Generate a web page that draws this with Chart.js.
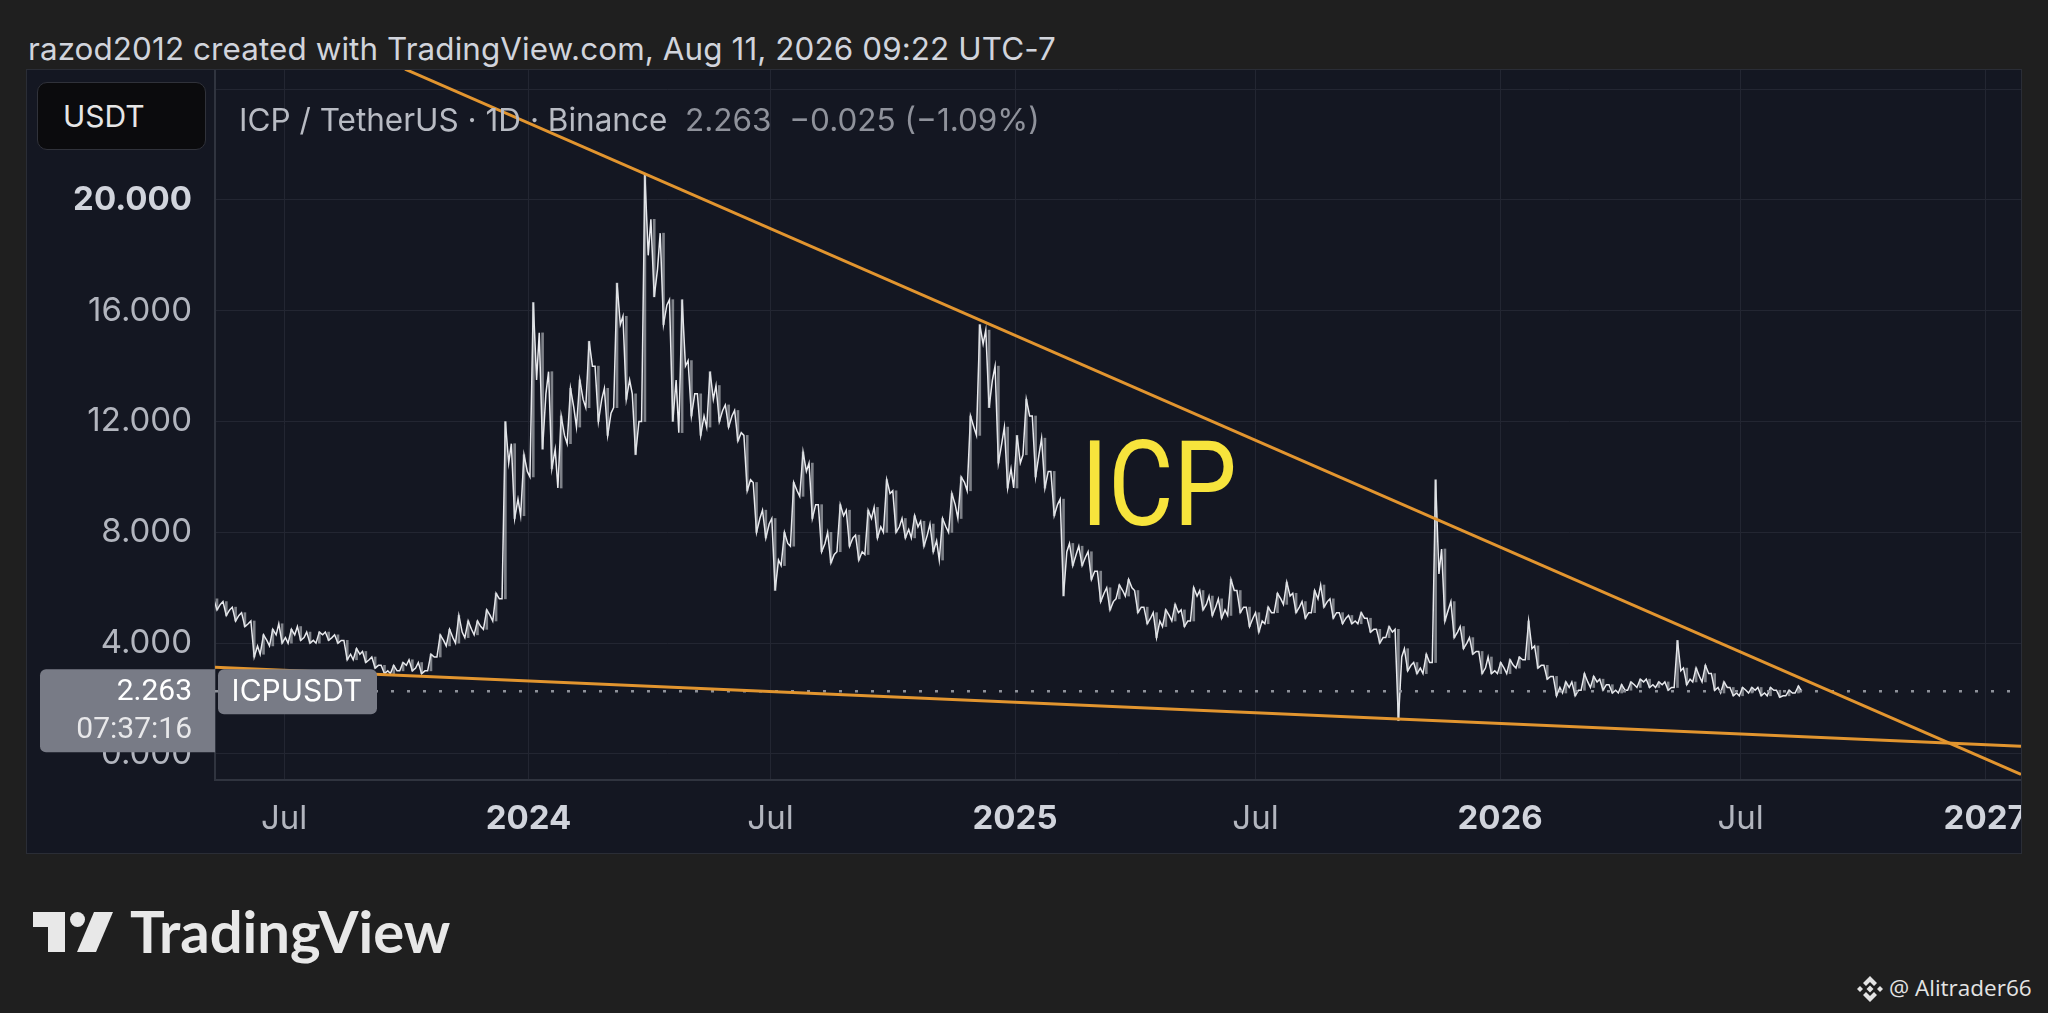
<!DOCTYPE html>
<html>
<head>
<meta charset="utf-8">
<script src="https://cdn.jsdelivr.net/npm/chart.js@4.4.1/dist/chart.umd.min.js"></script>
<style>
  body { margin: 0; width: 2048px; height: 1013px; overflow: hidden; background: #1f1f1f; font-family: Inter, sans-serif; }
  .abs { position: absolute; white-space: nowrap; }
  #credit { left: 28px; top: 33px; font-size: 31.4px; line-height: 32px; color: #d1d4dc; letter-spacing: 0.1px; }
  #panel { left: 27px; top: 70px; width: 1994px; height: 783px; background: #141722; outline: 1px solid #2a2d36; }
  #usdt { left: 37px; top: 82px; height: 66px; width: 142px; padding-left: 25px; background: #0b0b0d; border: 1px solid #30323a; border-radius: 10px;
          color: #e6e6e6; font-size: 30px; line-height: 66px; }
  #symbol { left: 239px; top: 104px; font-size: 31.5px; line-height: 31px; color: #b8bbc3; }
  #symbol span { color: #8f929b; }
  #brand { left: 130px; top: 902px; font-family: Lato, sans-serif; font-weight: 700; font-size: 58px; line-height: 58px; color: #e8e8e8; }
  #wm { left: 1889px; top: 975px; font-family: "Open Sans", sans-serif; font-size: 22.5px; line-height: 26px; color: #e4e4e4; }
</style>
</head>
<body>
<div id="credit" class="abs">razod2012 created with TradingView.com, Aug 11, 2026 09:22 UTC-7</div>
<div id="panel" class="abs"><canvas id="grafico" width="1994" height="783"></canvas></div>
<div id="usdt" class="abs">USDT</div>
<div id="symbol" class="abs">ICP / TetherUS · 1D · Binance&nbsp;&nbsp;<span>2.263&nbsp;&nbsp;−0.025 (−1.09%)</span></div>

<svg class="abs" style="left:33px;top:912px" width="82" height="41" viewBox="0 0 82 41">
  <g fill="#e8e8e8">
    <rect x="0" y="0" width="32" height="15"/>
    <rect x="15" y="0" width="17" height="40"/>
    <circle cx="44.5" cy="7.5" r="7.5"/>
    <polygon points="61,0 80,0 63,40 44,40"/>
  </g>
</svg>
<div id="brand" class="abs">TradingView</div>

<svg class="abs" style="left:1856px;top:975px" width="28" height="28" viewBox="0 0 28 28">
  <g fill="#e4e4e4">
    <polygon points="14,1 21,8 18,11 14,7 10,11 7,8"/>
    <polygon points="14,27 21,20 18,17 14,21 10,17 7,20"/>
    <polygon points="14,10.5 17.5,14 14,17.5 10.5,14"/>
    <polygon points="4,11 7,14 4,17 1,14"/>
    <polygon points="24,11 27,14 24,17 21,14"/>
  </g>
</svg>
<div id="wm" class="abs">@ Alitrader66</div>

<script>
// weekly candles, first week starts 2023-05-08
const firstWeek = '2023-05-08';
const weekHigh = [
  5.6, 5.5, 5.3, 5.1, 4.8, 4.3, 4.5, 4.7, 4.5, 4.6,
  4.4, 4.4, 4.4, 4.3, 4.1, 3.8, 3.7, 3.5, 3.2, 3.2,
  3.3, 3.4, 3.3, 3.6, 4.3, 4.5, 5.0, 4.8, 4.8, 5.2,
  5.8, 12.0, 11.2, 10.8, 16.3, 15.2, 13.8, 12.2, 13.2, 13.5,
  14.9, 14.0, 13.2, 17.0, 15.8, 13.0, 20.9, 19.3, 18.8, 16.4,
  16.4, 14.2, 13.0, 13.8, 13.3, 12.6, 12.4, 11.5, 9.8, 8.8,
  8.5, 8.0, 9.8, 10.9, 10.5, 9.0, 8.0, 9.0, 8.8, 7.9,
  8.8, 8.9, 9.9, 9.5, 8.5, 8.6, 8.4, 8.3, 8.5, 9.4,
  10.0, 12.2, 15.5, 15.3, 14.0, 11.8, 11.5, 12.8, 12.2, 11.4,
  10.2, 9.2, 7.6, 7.5, 7.3, 6.6, 6.0, 6.1, 6.3, 5.9,
  5.3, 5.1, 5.2, 5.4, 5.2, 6.0, 5.9, 5.7, 5.6, 6.3,
  5.9, 5.3, 5.1, 5.3, 5.8, 6.2, 5.8, 5.5, 5.9, 6.1,
  5.6, 5.1, 5.0, 5.1, 4.9, 4.5, 4.6, 4.5, 3.8, 3.3,
  3.6, 9.9, 7.4, 5.5, 4.6, 4.2, 3.7, 3.5, 3.3, 3.4,
  3.5, 4.8, 3.9, 3.2, 2.8, 2.6, 2.6, 2.9, 2.8, 2.7,
  2.5, 2.5, 2.6, 2.7, 2.7, 2.6, 2.6, 4.1, 3.1, 3.1,
  3.2, 2.9, 2.6, 2.4, 2.4, 2.4, 2.4, 2.4, 2.3, 2.3,
  2.45
];
const weekLow = [
  5.2, 5.0, 4.8, 4.6, 3.5, 3.6, 3.9, 4.0, 4.0, 4.1,
  4.0, 4.0, 4.1, 4.0, 3.4, 3.4, 3.3, 3.1, 2.9, 2.9,
  3.0, 3.0, 2.9, 3.0, 3.5, 3.9, 4.0, 4.2, 4.3, 4.5,
  4.8, 5.6, 8.5, 8.6, 10.0, 11.0, 10.3, 9.6, 11.2, 11.8,
  12.5, 12.0, 11.5, 12.5, 12.8, 10.8, 12.0, 16.5, 15.5, 12.0,
  11.6, 12.2, 11.5, 11.8, 12.0, 11.8, 11.3, 9.5, 8.0, 7.8,
  5.9, 6.8, 7.5, 9.3, 8.5, 7.3, 6.9, 7.3, 7.5, 7.0,
  7.2, 7.8, 8.0, 8.0, 7.8, 7.8, 7.5, 7.3, 7.0, 8.0,
  8.5, 9.5, 11.5, 12.5, 10.5, 9.6, 9.6, 10.8, 10.0, 9.6,
  8.6, 5.7, 6.8, 6.8, 6.3, 5.5, 5.2, 5.6, 5.7, 5.1,
  4.7, 4.2, 4.6, 4.8, 4.6, 4.8, 5.2, 5.0, 4.9, 5.0,
  5.1, 4.6, 4.4, 4.7, 5.1, 5.4, 5.1, 4.9, 5.1, 5.3,
  4.9, 4.7, 4.7, 4.7, 4.4, 4.0, 4.2, 1.2, 3.0, 2.9,
  2.9, 3.3, 4.8, 4.2, 3.8, 3.6, 2.9, 2.9, 2.9, 2.9,
  3.1, 3.4, 3.1, 2.7, 2.1, 2.2, 2.1, 2.3, 2.4, 2.3,
  2.2, 2.2, 2.3, 2.4, 2.4, 2.4, 2.3, 2.4, 2.5, 2.6,
  2.6, 2.3, 2.2, 2.1, 2.1, 2.2, 2.1, 2.1, 2.05, 2.1,
  2.2
];
const weekClose = [
  5.4, 5.2, 5.0, 4.7, 3.9, 4.1, 4.3, 4.2, 4.3, 4.2,
  4.1, 4.3, 4.2, 4.1, 3.6, 3.6, 3.4, 3.2, 3.0, 3.0,
  3.2, 3.1, 3.0, 3.5, 4.1, 4.2, 4.4, 4.5, 4.6, 5.0,
  5.6, 10.5, 9.2, 10.2, 13.5, 13.0, 11.0, 11.5, 12.5, 12.8,
  14.0, 12.8, 12.3, 15.5, 13.5, 12.0, 18.0, 17.5, 16.2, 13.5,
  14.0, 13.0, 12.2, 12.8, 12.4, 12.2, 11.6, 9.9, 8.5, 8.3,
  7.0, 7.6, 9.5, 10.2, 9.0, 7.6, 7.2, 8.6, 7.8, 7.3,
  8.5, 8.2, 9.4, 8.2, 8.1, 8.2, 7.9, 7.7, 8.2, 9.0,
  9.8, 11.8, 14.8, 13.5, 11.2, 10.3, 10.5, 12.2, 10.8, 10.2,
  9.0, 7.3, 7.2, 7.1, 6.6, 5.8, 5.5, 5.9, 6.0, 5.3,
  4.9, 4.8, 5.0, 5.1, 4.8, 5.7, 5.4, 5.3, 5.2, 5.9,
  5.3, 4.9, 4.8, 5.1, 5.6, 5.7, 5.3, 5.1, 5.6, 5.5,
  5.1, 4.9, 4.8, 4.9, 4.5, 4.2, 4.4, 3.5, 3.2, 3.1,
  3.3, 6.5, 5.2, 4.4, 4.0, 3.7, 3.1, 3.0, 3.1, 3.2,
  3.4, 3.8, 3.2, 2.8, 2.4, 2.4, 2.3, 2.6, 2.6, 2.5,
  2.3, 2.3, 2.5, 2.6, 2.5, 2.5, 2.4, 3.0, 2.7, 2.8,
  2.9, 2.4, 2.4, 2.2, 2.3, 2.3, 2.2, 2.3, 2.1, 2.2,
  2.263
];
const lastPrice = 2.263;

const xTickDates = ['2023-07-01', '2024-01-01', '2024-07-01', '2025-01-01', '2025-07-01', '2026-01-01', '2026-07-01', '2027-01-01'];
const xTickLabels = ['Jul', '2024', 'Jul', '2025', 'Jul', '2026', 'Jul', '2027'];
const yTicks = [0, 4, 8, 12, 16, 20, 24];

// trendlines as [date, price] anchors
const upperTrend = [['2023-09-30', 24.72], ['2027-01-28', -0.74]];
const lowerTrend = [['2023-05-10', 3.13], ['2027-01-28', 0.28]];

const dayOf = s => {
  const [y, m, d] = s.split('-').map(Number);
  return (Date.UTC(y, m - 1, d) - Date.UTC(2024, 0, 1)) / 86400000;
};
const w0 = dayOf(firstWeek);

// path through each week's extremes then its close
const pricePath = [];
weekClose.forEach((c, i) => {
  const d = w0 + 7 * i;
  const prev = i ? weekClose[i - 1] : weekHigh[0];
  const up = c >= prev;
  pricePath.push({ x: d + 1, y: up ? weekLow[i] : weekHigh[i] });
  pricePath.push({ x: d + 3.5, y: up ? weekHigh[i] : weekLow[i] });
  pricePath.push({ x: d + 6, y: c });
});

const tags = {
  id: 'tags',
  afterDraw(chart) {
    const c = chart.ctx, a = chart.chartArea;
    const py = chart.scales.y.getPixelForValue(lastPrice);
    c.save();
    c.fillStyle = '#787b86';
    c.beginPath(); c.roundRect(a.left + 3, py - 22, 159, 45, 6); c.fill();
    c.beginPath(); c.roundRect(13, py - 22, a.left - 13, 83, [6, 0, 0, 6]); c.fill();
    c.fillStyle = '#ffffff';
    c.font = '30px Inter';
    c.textBaseline = 'middle';
    c.textAlign = 'center';
    c.fillText('ICPUSDT', a.left + 82, py + 1);
    c.font = '30px Roboto';
    c.textAlign = 'right';
    c.fillText(lastPrice.toFixed(3), a.left - 23, py + 1);
    c.fillStyle = '#e8e8ea';
    c.fillText('07:37:16', a.left - 23, py + 39);
    // ICP label
    c.fillStyle = '#f7e43c';
    c.font = '118px Roboto';
    c.textAlign = 'left';
    c.textBaseline = 'alphabetic';
    c.translate(1054, 455);
    c.scale(0.85, 1);
    c.fillText('ICP', 0, 0);
    c.restore();
  }
};

const ctx = document.getElementById('grafico');

new Chart(ctx, {
  type: 'bar',
  data: {
    datasets: [{
      type: 'line',
      data: upperTrend.map(p => ({ x: dayOf(p[0]), y: p[1] })),
      borderColor: '#e2952f',
      borderWidth: 3,
      pointRadius: 0
    }, {
      type: 'line',
      data: lowerTrend.map(p => ({ x: dayOf(p[0]), y: p[1] })),
      borderColor: '#e2952f',
      borderWidth: 3,
      pointRadius: 0
    }, {
      type: 'line',
      data: [{ x: dayOf('2023-05-10'), y: lastPrice }, { x: dayOf('2027-01-28'), y: lastPrice }],
      borderColor: '#8e919a',
      borderWidth: 2.5,
      borderDash: [3, 13],
      pointRadius: 0
    }, {
      type: 'bar',
      data: weekClose.map((c, i) => ({ x: w0 + 7 * i + 3.5, y: [weekLow[i], weekHigh[i]] })),
      backgroundColor: 'rgba(214,216,221,0.55)',
      barThickness: 2,
      grouped: false
    }, {
      type: 'line',
      data: pricePath,
      borderColor: '#e9eaee',
      borderWidth: 1.5,
      pointRadius: 0,
      tension: 0
    }]
  },
  options: {
    responsive: false,
    animation: false,
    devicePixelRatio: 1,
    layout: { padding: 0 },
    plugins: { legend: { display: false }, tooltip: { enabled: false } },
    scales: {
      x: {
        type: 'linear',
        min: dayOf('2023-05-10'),
        max: dayOf('2027-01-28'),
        offset: false,
        grid: { color: '#232632', drawTicks: false, offset: false },
        border: { color: '#30343f', width: 2 },
        afterBuildTicks: s => { s.ticks = xTickDates.map(d => ({ value: dayOf(d) })); },
        afterFit: s => { s.height = 73; s.paddingLeft = 0; s.paddingRight = 0; },
        ticks: {
          autoSkip: false,
          maxRotation: 0,
          padding: 19,
          callback: (v, i) => xTickLabels[i],
          font: c => ({ family: 'Inter', size: 33, weight: /^\d/.test(xTickLabels[c.index]) ? 'bold' : 'normal' }),
          color: c => /^\d/.test(xTickLabels[c.index]) ? '#d1d4dc' : '#b2b5be'
        }
      },
      y: {
        min: -0.94,
        max: 24.69,
        grid: { color: '#232632', drawTicks: false },
        border: { color: '#30343f', width: 2 },
        afterBuildTicks: s => { s.ticks = yTicks.map(v => ({ value: v })); },
        afterFit: s => { s.width = 188; s.paddingTop = 0; s.paddingBottom = 0; },
        ticks: {
          padding: 23,
          callback: v => v === 24 ? '' : v.toFixed(3),
          font: c => ({ family: 'Inter', size: 33, weight: yTicks[c.index] === 20 ? 'bold' : 'normal' }),
          color: c => yTicks[c.index] === 20 ? '#d1d4dc' : '#b2b5be'
        }
      }
    }
  },
  plugins: [tags]
});
</script>
</body>
</html>
